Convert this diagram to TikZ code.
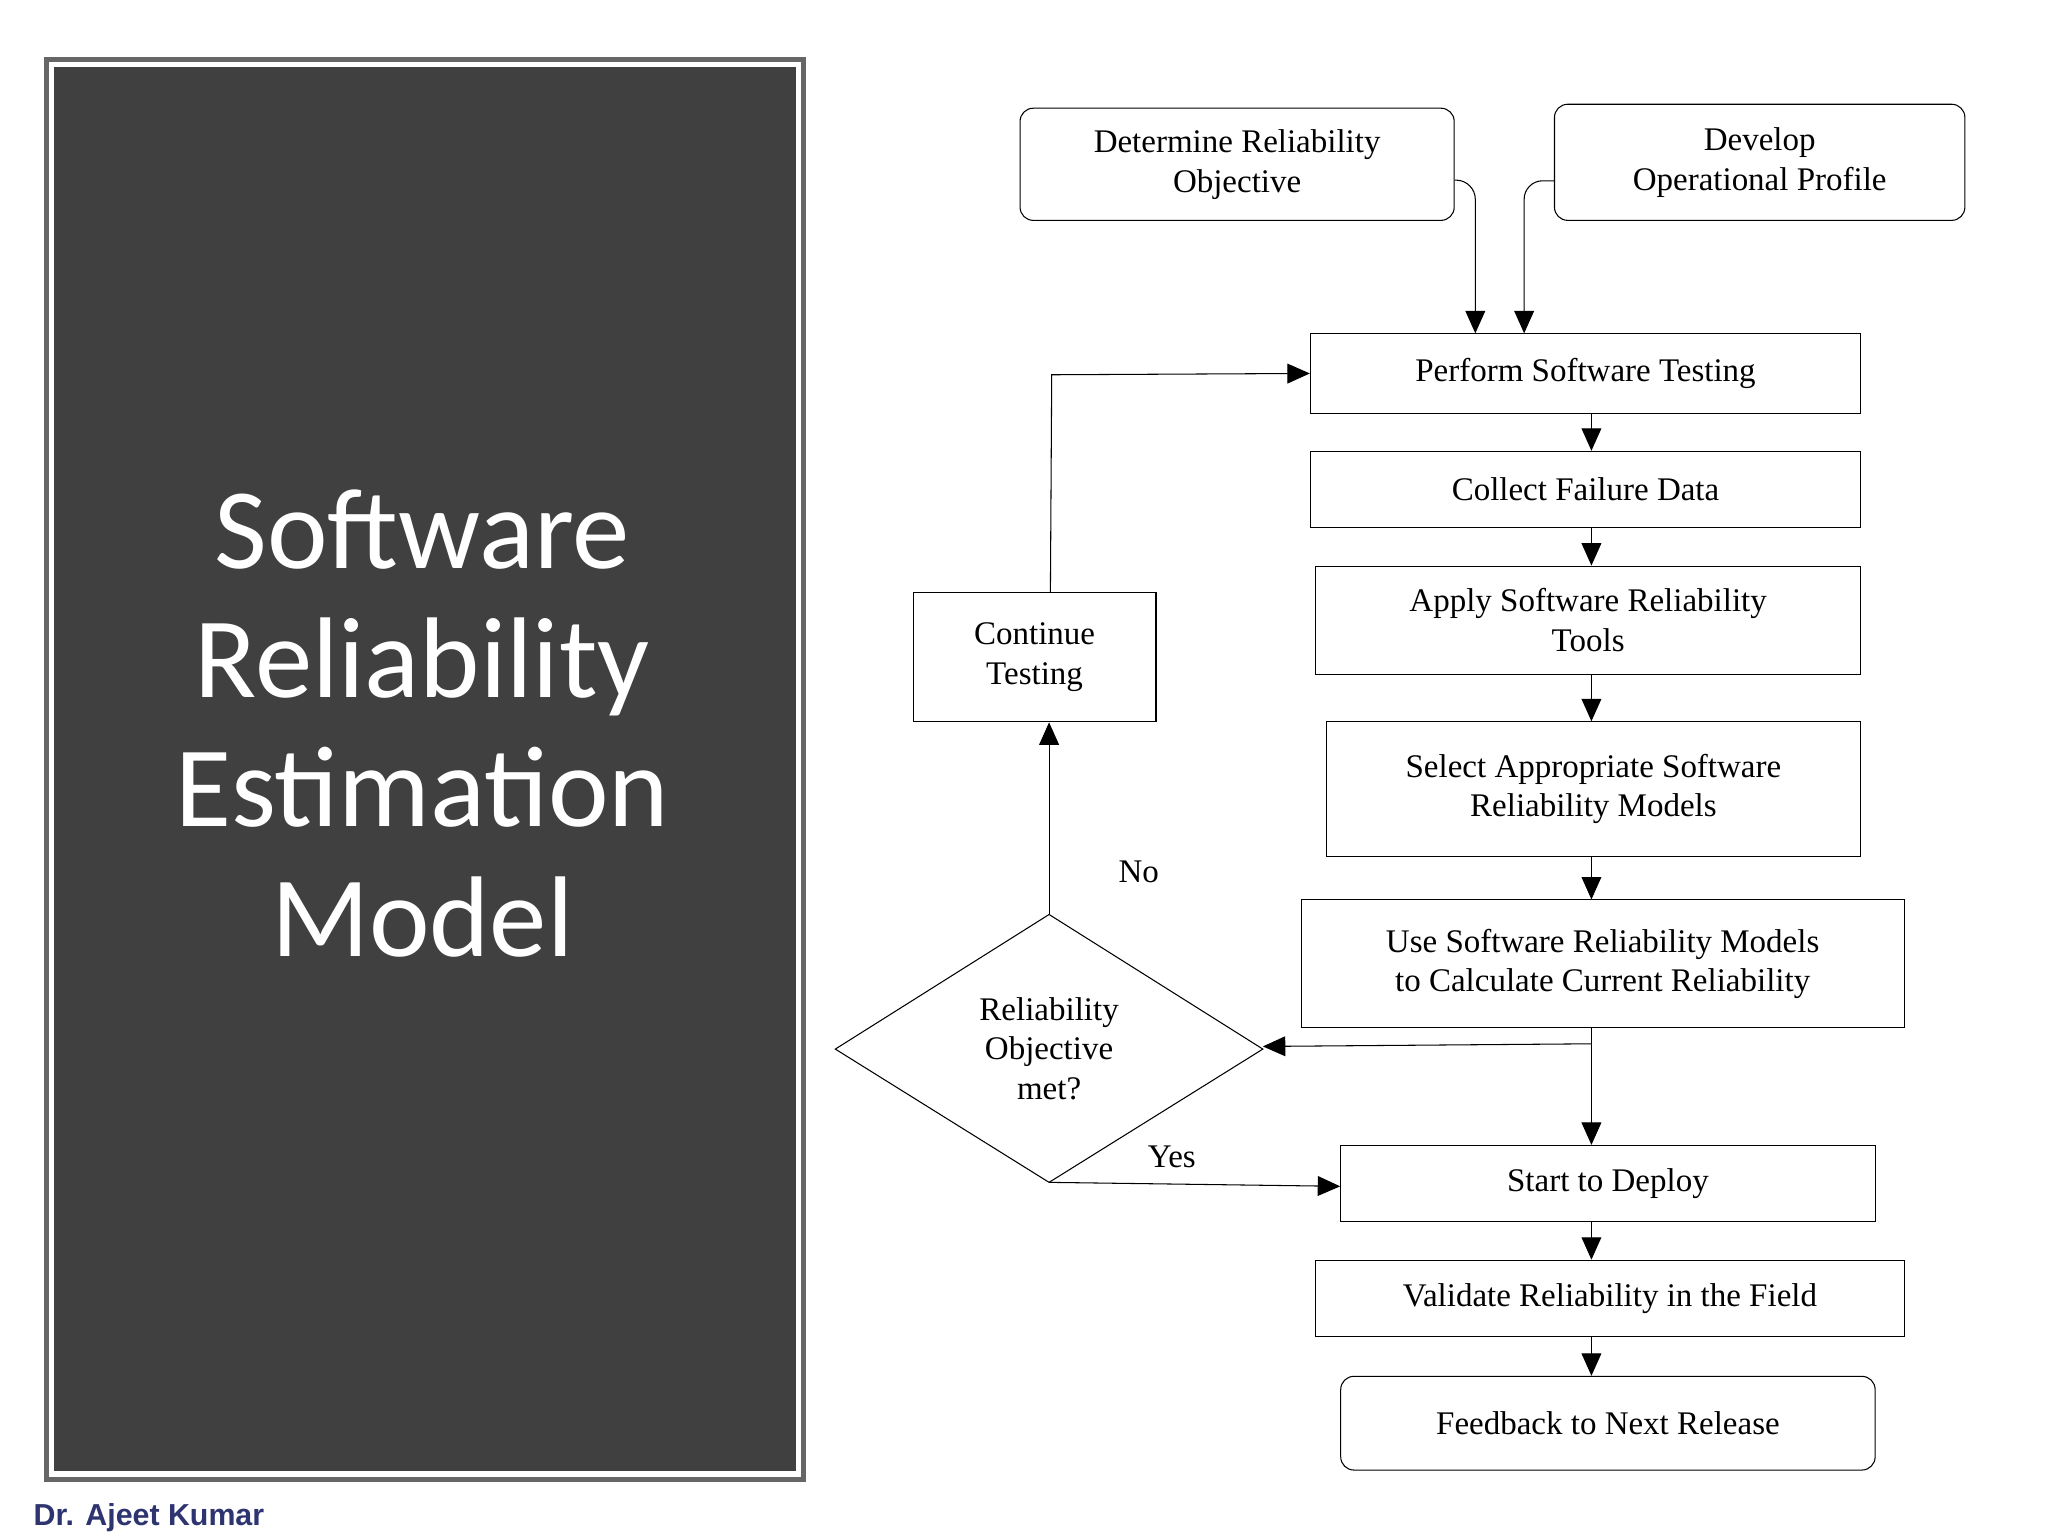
\documentclass[tikz,border=0pt]{standalone}
\usepackage{fontspec}
\setmainfont{Liberation Serif}
\newfontfamily\titlefont{Carlito}
\newfontfamily\footfont{Liberation Sans}
\usetikzlibrary{shapes.geometric,arrows.meta}
\definecolor{panel}{HTML}{404040}
\definecolor{navy}{HTML}{2E3470}
\begin{document}
\begin{tikzpicture}[x=1pt,y=-1pt,
  box/.style={draw,thick,inner sep=0pt,align=center,font=\fontsize{25}{30}\selectfont},
  rbox/.style={box,rounded corners=10pt},
  arr/.style={-{Triangle[length=17pt,width=15pt]},thick},
  lbl/.style={font=\fontsize{25}{30}\selectfont}]
\useasboundingbox (0,0) rectangle (1552,1164);
\fill[white] (0,0) rectangle (1552,1164);
\draw[gray!80!black,line width=4pt] (35,45) rectangle (609,1121);
\fill[panel] (41,51) rectangle (603,1115);
\node[text=white,align=center,font=\titlefont\fontsize{87}{98}\selectfont] (title) at (320,548) {Software\\Reliability\\Estimation\\Model};
\node[anchor=west,text=navy,font=\footfont\bfseries\fontsize{23}{26}\selectfont] (foot) at (22,1150) {Dr. Ajeet Kumar};

\node[rbox,minimum width=329,minimum height=85] (det) at (937.5,124.5) {Determine Reliability\\Objective};
\node[rbox,minimum width=311,minimum height=88] (dev) at (1333.5,123) {Develop\\Operational Profile};
\node[box,minimum width=417,minimum height=60] (pst) at (1201.5,283) {Perform Software Testing};
\node[box,minimum width=417,minimum height=58] (cfd) at (1201.5,371) {Collect Failure Data};
\node[box,minimum width=413,minimum height=82] (asr) at (1203.5,470) {Apply Software Reliability\\Tools};
\node[box,minimum width=405,minimum height=102] (sas) at (1207.5,598) {Select Appropriate Software\\Reliability Models};
\node[box,minimum width=457,minimum height=97] (usr) at (1214.5,730.5) {Use Software Reliability Models\\to Calculate Current Reliability};
\node[box,draw=none,minimum width=324,minimum height=203] (diaT) at (795,794.5) {Reliability\\Objective\\met?};
\draw[thick] (633,795) -- (795,693) -- (957,795) -- (795,896) -- cycle;
\coordinate (dE) at (957,793);
\coordinate (dN) at (795,693);
\coordinate (dS) at (795,896);
\coordinate (xa) at (1118,0);
\coordinate (xb) at (1155,0);
\coordinate (xc) at (1206,0);
\coordinate (yd) at (0,899);
\node[box,minimum width=184,minimum height=98] (ct) at (784,498) {Continue\\Testing};
\node[box,minimum width=405,minimum height=58] (std) at (1218.5,897) {Start to Deploy};
\node[box,minimum width=446,minimum height=58] (val) at (1220,984) {Validate Reliability in the Field};
\node[rbox,minimum width=405,minimum height=71] (fb) at (1218.5,1078.5) {Feedback to Next Release};

\draw[arr,rounded corners=14pt] (det.east) ++(0,12) -- (1118,137) -- (xa |- pst.north);
\draw[arr,rounded corners=14pt] (dev.west) ++(0,14) -- (1155,137) -- (xb |- pst.north);
\draw[arr] (1206,313) -- (xc |- cfd.north);
\draw[arr] (1206,400) -- (xc |- asr.north);
\draw[arr] (1206,511) -- (xc |- sas.north);
\draw[arr] (1206,649) -- (xc |- usr.north);
\draw[arr] (1206,779) -- (xc |- std.north);
\draw[arr] (1206,791) -- (dE);
\draw[arr] (dS) -- (std.west |- yd);
\draw[arr] (1206,926) -- (xc |- val.north);
\draw[arr] (1206,1013) -- (xc |- fb.north);
\draw[arr] (dN) -- (ct.south -| dN);
\draw[arr] (796,449) -- (797,284) -- (pst.west);
\node[lbl] (no) at (863,661) {No};
\node[lbl] (yes) at (888,877) {Yes};
\end{tikzpicture}
\end{document}
